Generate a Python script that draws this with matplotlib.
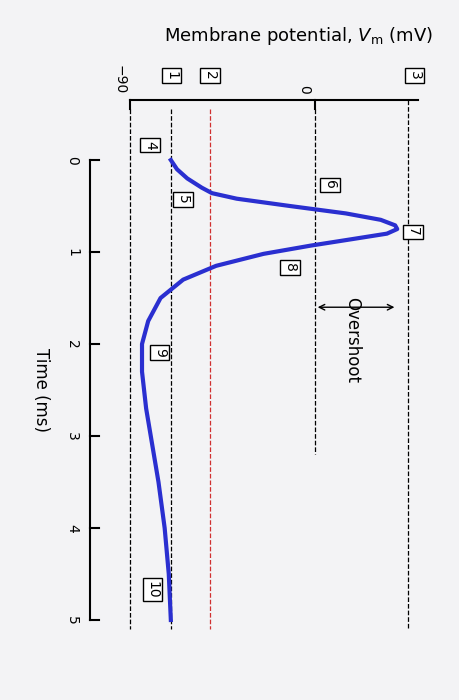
import matplotlib
matplotlib.use("Agg")
import matplotlib.pyplot as plt
import numpy as np

t = [0,0.1,0.2,0.3,0.36,0.42,0.5,0.58,0.65,0.71,0.75,0.8,0.86,0.93,1.02,1.15,1.3,1.5,1.75,2.0,2.3,2.7,3.1,3.5,4.0,4.5,5.0]
vm = [-70,-67,-62,-55,-50,-38,-12,15,32,39,40,35,18,-2,-25,-48,-64,-75,-81,-84,-84,-82,-79,-76,-73,-71,-70]
time_ticks = [0,1,2,3,4,5]
vm_ticks = [-90, 0]
boxes = [("3",48.5,-0.92),("1",-69.6,-0.92),("2",-51,-0.92),("4",-80,-0.16),("5",-64,0.43),
         ("6",7.3,0.27),("7",47.6,0.78),("8",-12,1.17),("9",-75.4,2.09),("10",-79,4.67)]

fig = plt.figure(figsize=(4.6,7), dpi=100, facecolor="#f3f3f5")
ax = fig.add_axes([0,0,1,1])
ax.set_facecolor("#f3f3f5")
ax.set_xlim(-153, 70.5); ax.set_ylim(5.87, -1.74); ax.axis("off")

# voltage axis (top)
ax.plot([-90, 50], [-0.65, -0.65], color="k", lw=1.5)
for v in vm_ticks:
    ax.plot([v, v], [-0.65, -0.55], color="k", lw=1.5)
    ax.text(v-5, -0.72, f"{v}".replace("-", "−"), rotation=-90, ha="center", va="bottom", fontsize=10)
ax.text(-8, -1.35, "Membrane potential, $V_\\mathrm{m}$ (mV)", ha="center", va="center", fontsize=13)

# time axis
ax.plot([-109.4, -109.4], [0, 5], color="k", lw=1.5)
for tt in time_ticks:
    ax.plot([-109.4, -105], [tt, tt], color="k", lw=1.5)
    ax.text(-118, tt, str(tt), rotation=-90, ha="center", va="center", fontsize=10)
ax.text(-133, 2.5, "Time (ms)", rotation=-90, ha="center", va="center", fontsize=12)

# reference lines
ax.plot([-90,-90], [-0.55,5.1], ls="--", color="k", lw=0.9)
ax.plot([-70,-70], [-0.55,5.1], ls="--", color="k", lw=0.9)
ax.plot([-51,-51], [-0.55,5.1], ls="--", color="#d03030", lw=0.9)
ax.plot([0,0], [-0.55,3.2], ls="--", color="k", lw=0.9)
ax.plot([45,45], [-0.65,5.1], ls="--", color="k", lw=0.9)

ax.plot(vm, t, color="#2a2fd0", lw=3)

ax.annotate("", xy=(40,1.6), xytext=(0,1.6), arrowprops=dict(arrowstyle="<->", lw=1))
ax.text(18, 1.96, "Overshoot", rotation=-90, ha="center", va="center", fontsize=12)

for lab, x, y in boxes:
    ax.text(x, y, lab, rotation=-90, ha="center", va="center", fontsize=10,
            bbox=dict(boxstyle="square,pad=0.2", fc="white", ec="k", lw=1))

fig.savefig("out.png", dpi=100, facecolor=fig.get_facecolor())
